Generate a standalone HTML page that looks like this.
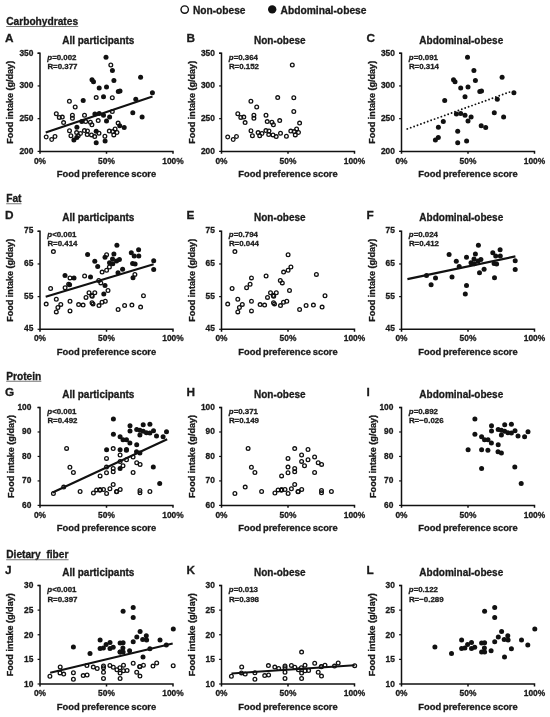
<!DOCTYPE html><html><head><meta charset="utf-8"><style>html,body{margin:0;padding:0;background:#fff;}svg{display:block;filter:blur(0.3px)}</style></head><body>
<svg width="550" height="717" viewBox="0 0 550 717" font-family="Liberation Sans, sans-serif" font-weight="bold" fill="#1a1a1a"><style>text{stroke:#1a1a1a;stroke-width:0.3px}</style>
<circle cx="184.7" cy="9.6" r="3.7" fill="none" stroke="#111" stroke-width="1.4"/>
<text x="192.9" y="14" font-size="10.2">Non-obese</text>
<circle cx="272.2" cy="9.4" r="4.2" fill="#111"/>
<text x="280.5" y="14.1" font-size="10.25">Abdominal-obese</text>
<text x="6.2" y="24.8" font-size="10.2">Carbohydrates</text>
<rect x="6.2" y="26.1" width="71.99" height="0.8" fill="#555"/>
<text x="5" y="41.5" font-size="11.8">A</text>
<text x="98.3" y="43.5" font-size="10" text-anchor="middle">All participants</text>
<path d="M37.6 53.2H40V151.4H173V153.8M40 151.4V153.8M106.5 151.4V153.8" fill="none" stroke="#111" stroke-width="1.5"/>
<path d="M37.6 151.4H40" stroke="#111" stroke-width="1.2"/>
<text x="33.4" y="153.7" font-size="8.4" text-anchor="end">200</text>
<path d="M37.6 118.67H40" stroke="#111" stroke-width="1.2"/>
<text x="33.4" y="120.97" font-size="8.4" text-anchor="end">250</text>
<path d="M37.6 85.93H40" stroke="#111" stroke-width="1.2"/>
<text x="33.4" y="88.23" font-size="8.4" text-anchor="end">300</text>
<path d="M37.6 53.2H40" stroke="#111" stroke-width="1.2"/>
<text x="33.4" y="55.5" font-size="8.4" text-anchor="end">350</text>
<text x="40" y="163.5" font-size="8.4" text-anchor="middle">0%</text>
<text x="106.5" y="163.5" font-size="8.4" text-anchor="middle">50%</text>
<text x="173" y="163.5" font-size="8.4" text-anchor="middle">100%</text>
<text x="106.5" y="177.2" font-size="9.4" word-spacing="-0.8" text-anchor="middle">Food preference score</text>
<text transform="translate(13.3 102.3) rotate(-90)" font-size="9.05" text-anchor="middle">Food intake (g/day)</text>
<text x="47.3" y="59.5" font-size="7.9"><tspan font-style="italic">p</tspan>=0.002</text>
<text x="47.4" y="68.9" font-size="7.9">R=0.377</text>
<text x="186.5" y="41.5" font-size="11.8">B</text>
<text x="279.8" y="43.5" font-size="10" text-anchor="middle">Non-obese</text>
<path d="M219.1 53.2H221.5V151.4H354.5V153.8M221.5 151.4V153.8M288 151.4V153.8" fill="none" stroke="#111" stroke-width="1.5"/>
<path d="M219.1 151.4H221.5" stroke="#111" stroke-width="1.2"/>
<text x="214.9" y="153.7" font-size="8.4" text-anchor="end">200</text>
<path d="M219.1 118.67H221.5" stroke="#111" stroke-width="1.2"/>
<text x="214.9" y="120.97" font-size="8.4" text-anchor="end">250</text>
<path d="M219.1 85.93H221.5" stroke="#111" stroke-width="1.2"/>
<text x="214.9" y="88.23" font-size="8.4" text-anchor="end">300</text>
<path d="M219.1 53.2H221.5" stroke="#111" stroke-width="1.2"/>
<text x="214.9" y="55.5" font-size="8.4" text-anchor="end">350</text>
<text x="221.5" y="163.5" font-size="8.4" text-anchor="middle">0%</text>
<text x="288" y="163.5" font-size="8.4" text-anchor="middle">50%</text>
<text x="354.5" y="163.5" font-size="8.4" text-anchor="middle">100%</text>
<text x="288" y="177.2" font-size="9.4" word-spacing="-0.8" text-anchor="middle">Food preference score</text>
<text transform="translate(194.8 102.3) rotate(-90)" font-size="9.05" text-anchor="middle">Food intake (g/day)</text>
<text x="228.8" y="59.5" font-size="7.9"><tspan font-style="italic">p</tspan>=0.364</text>
<text x="228.9" y="68.9" font-size="7.9">R=0.152</text>
<text x="366.5" y="41.5" font-size="11.8">C</text>
<text x="461.3" y="43.5" font-size="10" text-anchor="middle">Abdominal-obese</text>
<path d="M399.1 53.2H401.5V151.4H534.5V153.8M401.5 151.4V153.8M468 151.4V153.8" fill="none" stroke="#111" stroke-width="1.5"/>
<path d="M399.1 151.4H401.5" stroke="#111" stroke-width="1.2"/>
<text x="394.9" y="153.7" font-size="8.4" text-anchor="end">200</text>
<path d="M399.1 118.67H401.5" stroke="#111" stroke-width="1.2"/>
<text x="394.9" y="120.97" font-size="8.4" text-anchor="end">250</text>
<path d="M399.1 85.93H401.5" stroke="#111" stroke-width="1.2"/>
<text x="394.9" y="88.23" font-size="8.4" text-anchor="end">300</text>
<path d="M399.1 53.2H401.5" stroke="#111" stroke-width="1.2"/>
<text x="394.9" y="55.5" font-size="8.4" text-anchor="end">350</text>
<text x="401.5" y="163.5" font-size="8.4" text-anchor="middle">0%</text>
<text x="468" y="163.5" font-size="8.4" text-anchor="middle">50%</text>
<text x="534.5" y="163.5" font-size="8.4" text-anchor="middle">100%</text>
<text x="468" y="177.2" font-size="9.4" word-spacing="-0.8" text-anchor="middle">Food preference score</text>
<text transform="translate(374.8 102.3) rotate(-90)" font-size="9.05" text-anchor="middle">Food intake (g/day)</text>
<text x="408.8" y="59.5" font-size="7.9"><tspan font-style="italic">p</tspan>=0.091</text>
<text x="408.9" y="68.9" font-size="7.9">R=0.314</text>
<circle cx="46.2" cy="137" r="1.85" fill="none" stroke="#111" stroke-width="1.3"/>
<circle cx="51.7" cy="139.5" r="1.85" fill="none" stroke="#111" stroke-width="1.3"/>
<circle cx="55" cy="136.5" r="1.85" fill="none" stroke="#111" stroke-width="1.3"/>
<circle cx="56.3" cy="113.8" r="1.85" fill="none" stroke="#111" stroke-width="1.3"/>
<circle cx="59.3" cy="117.4" r="1.85" fill="none" stroke="#111" stroke-width="1.3"/>
<circle cx="62.3" cy="117.1" r="1.85" fill="none" stroke="#111" stroke-width="1.3"/>
<circle cx="63.6" cy="122.6" r="1.85" fill="none" stroke="#111" stroke-width="1.3"/>
<circle cx="69.4" cy="101.2" r="1.85" fill="none" stroke="#111" stroke-width="1.3"/>
<circle cx="75.2" cy="107" r="1.85" fill="none" stroke="#111" stroke-width="1.3"/>
<circle cx="72.4" cy="115.2" r="1.85" fill="none" stroke="#111" stroke-width="1.3"/>
<circle cx="72.4" cy="118.2" r="1.85" fill="none" stroke="#111" stroke-width="1.3"/>
<circle cx="69.5" cy="130.8" r="1.85" fill="none" stroke="#111" stroke-width="1.3"/>
<circle cx="70.9" cy="135.8" r="1.85" fill="none" stroke="#111" stroke-width="1.3"/>
<circle cx="76.6" cy="132.6" r="1.85" fill="none" stroke="#111" stroke-width="1.3"/>
<circle cx="78.2" cy="135.8" r="1.85" fill="none" stroke="#111" stroke-width="1.3"/>
<circle cx="80.5" cy="133.5" r="1.85" fill="none" stroke="#111" stroke-width="1.3"/>
<circle cx="84.5" cy="115.2" r="1.85" fill="none" stroke="#111" stroke-width="1.3"/>
<circle cx="85.7" cy="121.6" r="1.85" fill="none" stroke="#111" stroke-width="1.3"/>
<circle cx="84.4" cy="130.6" r="1.85" fill="none" stroke="#111" stroke-width="1.3"/>
<circle cx="87.5" cy="131" r="1.85" fill="none" stroke="#111" stroke-width="1.3"/>
<circle cx="87.2" cy="134.6" r="1.85" fill="none" stroke="#111" stroke-width="1.3"/>
<circle cx="90.4" cy="122.2" r="1.85" fill="none" stroke="#111" stroke-width="1.3"/>
<circle cx="91.9" cy="124.7" r="1.85" fill="none" stroke="#111" stroke-width="1.3"/>
<circle cx="91.5" cy="134.9" r="1.85" fill="none" stroke="#111" stroke-width="1.3"/>
<circle cx="94.7" cy="136.6" r="1.85" fill="none" stroke="#111" stroke-width="1.3"/>
<circle cx="96.2" cy="97.6" r="1.85" fill="none" stroke="#111" stroke-width="1.3"/>
<circle cx="98.2" cy="120.6" r="1.85" fill="none" stroke="#111" stroke-width="1.3"/>
<circle cx="99" cy="133.2" r="1.85" fill="none" stroke="#111" stroke-width="1.3"/>
<circle cx="110.8" cy="65" r="1.85" fill="none" stroke="#111" stroke-width="1.3"/>
<circle cx="112.3" cy="97.7" r="1.85" fill="none" stroke="#111" stroke-width="1.3"/>
<circle cx="112.3" cy="111.5" r="1.85" fill="none" stroke="#111" stroke-width="1.3"/>
<circle cx="118.1" cy="123.1" r="1.85" fill="none" stroke="#111" stroke-width="1.3"/>
<circle cx="115.1" cy="128.9" r="1.85" fill="none" stroke="#111" stroke-width="1.3"/>
<circle cx="117" cy="132.5" r="1.85" fill="none" stroke="#111" stroke-width="1.3"/>
<circle cx="113.8" cy="134.9" r="1.85" fill="none" stroke="#111" stroke-width="1.3"/>
<circle cx="112.7" cy="131.6" r="1.85" fill="none" stroke="#111" stroke-width="1.3"/>
<circle cx="109.3" cy="131.1" r="1.85" fill="none" stroke="#111" stroke-width="1.3"/>
<circle cx="104.9" cy="136.2" r="1.85" fill="none" stroke="#111" stroke-width="1.3"/>
<circle cx="106" cy="57.3" r="2.5" fill="#111"/>
<circle cx="112.4" cy="70.5" r="2.5" fill="#111"/>
<circle cx="92" cy="79.7" r="2.5" fill="#111"/>
<circle cx="93.5" cy="81.8" r="2.5" fill="#111"/>
<circle cx="113.9" cy="80.6" r="2.5" fill="#111"/>
<circle cx="99.2" cy="88.1" r="2.5" fill="#111"/>
<circle cx="106.5" cy="87" r="2.5" fill="#111"/>
<circle cx="118.3" cy="91.6" r="2.5" fill="#111"/>
<circle cx="120" cy="90.9" r="2.5" fill="#111"/>
<circle cx="103.5" cy="96.8" r="2.5" fill="#111"/>
<circle cx="83.2" cy="100.5" r="2.5" fill="#111"/>
<circle cx="94.9" cy="114.1" r="2.5" fill="#111"/>
<circle cx="99.2" cy="113.6" r="2.5" fill="#111"/>
<circle cx="103.5" cy="115.2" r="2.5" fill="#111"/>
<circle cx="109.6" cy="117" r="2.5" fill="#111"/>
<circle cx="106.5" cy="121.1" r="2.5" fill="#111"/>
<circle cx="81.8" cy="121.5" r="2.5" fill="#111"/>
<circle cx="76.9" cy="127.3" r="2.5" fill="#111"/>
<circle cx="96.2" cy="131.2" r="2.5" fill="#111"/>
<circle cx="76.8" cy="137.5" r="2.5" fill="#111"/>
<circle cx="73.9" cy="140" r="2.5" fill="#111"/>
<circle cx="96.2" cy="142.7" r="2.5" fill="#111"/>
<circle cx="105.1" cy="140.9" r="2.5" fill="#111"/>
<circle cx="140.6" cy="77.3" r="2.5" fill="#111"/>
<circle cx="152.4" cy="92.7" r="2.5" fill="#111"/>
<circle cx="135.8" cy="99.3" r="2.5" fill="#111"/>
<circle cx="132.8" cy="112.7" r="2.5" fill="#111"/>
<circle cx="142.1" cy="117.1" r="2.5" fill="#111"/>
<circle cx="119.7" cy="125.7" r="2.5" fill="#111"/>
<circle cx="124.2" cy="127.5" r="2.5" fill="#111"/>
<circle cx="227.7" cy="137" r="1.85" fill="none" stroke="#111" stroke-width="1.3"/>
<circle cx="233.2" cy="139.5" r="1.85" fill="none" stroke="#111" stroke-width="1.3"/>
<circle cx="236.5" cy="136.5" r="1.85" fill="none" stroke="#111" stroke-width="1.3"/>
<circle cx="237.8" cy="113.8" r="1.85" fill="none" stroke="#111" stroke-width="1.3"/>
<circle cx="240.8" cy="117.4" r="1.85" fill="none" stroke="#111" stroke-width="1.3"/>
<circle cx="243.8" cy="117.1" r="1.85" fill="none" stroke="#111" stroke-width="1.3"/>
<circle cx="245.1" cy="122.6" r="1.85" fill="none" stroke="#111" stroke-width="1.3"/>
<circle cx="250.9" cy="101.2" r="1.85" fill="none" stroke="#111" stroke-width="1.3"/>
<circle cx="256.7" cy="107" r="1.85" fill="none" stroke="#111" stroke-width="1.3"/>
<circle cx="253.9" cy="115.2" r="1.85" fill="none" stroke="#111" stroke-width="1.3"/>
<circle cx="253.9" cy="118.2" r="1.85" fill="none" stroke="#111" stroke-width="1.3"/>
<circle cx="251" cy="130.8" r="1.85" fill="none" stroke="#111" stroke-width="1.3"/>
<circle cx="252.4" cy="135.8" r="1.85" fill="none" stroke="#111" stroke-width="1.3"/>
<circle cx="258.1" cy="132.6" r="1.85" fill="none" stroke="#111" stroke-width="1.3"/>
<circle cx="259.7" cy="135.8" r="1.85" fill="none" stroke="#111" stroke-width="1.3"/>
<circle cx="262" cy="133.5" r="1.85" fill="none" stroke="#111" stroke-width="1.3"/>
<circle cx="266" cy="115.2" r="1.85" fill="none" stroke="#111" stroke-width="1.3"/>
<circle cx="267.2" cy="121.6" r="1.85" fill="none" stroke="#111" stroke-width="1.3"/>
<circle cx="265.9" cy="130.6" r="1.85" fill="none" stroke="#111" stroke-width="1.3"/>
<circle cx="269" cy="131" r="1.85" fill="none" stroke="#111" stroke-width="1.3"/>
<circle cx="268.7" cy="134.6" r="1.85" fill="none" stroke="#111" stroke-width="1.3"/>
<circle cx="271.9" cy="122.2" r="1.85" fill="none" stroke="#111" stroke-width="1.3"/>
<circle cx="273.4" cy="124.7" r="1.85" fill="none" stroke="#111" stroke-width="1.3"/>
<circle cx="273" cy="134.9" r="1.85" fill="none" stroke="#111" stroke-width="1.3"/>
<circle cx="276.2" cy="136.6" r="1.85" fill="none" stroke="#111" stroke-width="1.3"/>
<circle cx="277.7" cy="97.6" r="1.85" fill="none" stroke="#111" stroke-width="1.3"/>
<circle cx="279.7" cy="120.6" r="1.85" fill="none" stroke="#111" stroke-width="1.3"/>
<circle cx="280.5" cy="133.2" r="1.85" fill="none" stroke="#111" stroke-width="1.3"/>
<circle cx="292.3" cy="65" r="1.85" fill="none" stroke="#111" stroke-width="1.3"/>
<circle cx="293.8" cy="97.7" r="1.85" fill="none" stroke="#111" stroke-width="1.3"/>
<circle cx="293.8" cy="111.5" r="1.85" fill="none" stroke="#111" stroke-width="1.3"/>
<circle cx="299.6" cy="123.1" r="1.85" fill="none" stroke="#111" stroke-width="1.3"/>
<circle cx="296.6" cy="128.9" r="1.85" fill="none" stroke="#111" stroke-width="1.3"/>
<circle cx="298.5" cy="132.5" r="1.85" fill="none" stroke="#111" stroke-width="1.3"/>
<circle cx="295.3" cy="134.9" r="1.85" fill="none" stroke="#111" stroke-width="1.3"/>
<circle cx="294.2" cy="131.6" r="1.85" fill="none" stroke="#111" stroke-width="1.3"/>
<circle cx="290.8" cy="131.1" r="1.85" fill="none" stroke="#111" stroke-width="1.3"/>
<circle cx="286.4" cy="136.2" r="1.85" fill="none" stroke="#111" stroke-width="1.3"/>
<circle cx="467.5" cy="57.3" r="2.5" fill="#111"/>
<circle cx="473.9" cy="70.5" r="2.5" fill="#111"/>
<circle cx="453.5" cy="79.7" r="2.5" fill="#111"/>
<circle cx="455" cy="81.8" r="2.5" fill="#111"/>
<circle cx="475.4" cy="80.6" r="2.5" fill="#111"/>
<circle cx="460.7" cy="88.1" r="2.5" fill="#111"/>
<circle cx="468" cy="87" r="2.5" fill="#111"/>
<circle cx="479.8" cy="91.6" r="2.5" fill="#111"/>
<circle cx="481.5" cy="90.9" r="2.5" fill="#111"/>
<circle cx="465" cy="96.8" r="2.5" fill="#111"/>
<circle cx="444.7" cy="100.5" r="2.5" fill="#111"/>
<circle cx="456.4" cy="114.1" r="2.5" fill="#111"/>
<circle cx="460.7" cy="113.6" r="2.5" fill="#111"/>
<circle cx="465" cy="115.2" r="2.5" fill="#111"/>
<circle cx="471.1" cy="117" r="2.5" fill="#111"/>
<circle cx="468" cy="121.1" r="2.5" fill="#111"/>
<circle cx="443.3" cy="121.5" r="2.5" fill="#111"/>
<circle cx="438.4" cy="127.3" r="2.5" fill="#111"/>
<circle cx="457.7" cy="131.2" r="2.5" fill="#111"/>
<circle cx="438.3" cy="137.5" r="2.5" fill="#111"/>
<circle cx="435.4" cy="140" r="2.5" fill="#111"/>
<circle cx="457.7" cy="142.7" r="2.5" fill="#111"/>
<circle cx="466.6" cy="140.9" r="2.5" fill="#111"/>
<circle cx="502.1" cy="77.3" r="2.5" fill="#111"/>
<circle cx="513.9" cy="92.7" r="2.5" fill="#111"/>
<circle cx="497.3" cy="99.3" r="2.5" fill="#111"/>
<circle cx="494.3" cy="112.7" r="2.5" fill="#111"/>
<circle cx="503.6" cy="117.1" r="2.5" fill="#111"/>
<circle cx="481.2" cy="125.7" r="2.5" fill="#111"/>
<circle cx="485.7" cy="127.5" r="2.5" fill="#111"/>
<path d="M45.7 132.6L152.5 96.6" stroke="#111" stroke-width="2.1"/>
<path d="M407.3 128.9L511.4 91.4" stroke="#111" stroke-dasharray="0 3.62" stroke-linecap="round" stroke-width="1.9"/>
<text x="6.2" y="202.1" font-size="10.2">Fat</text>
<rect x="6.2" y="203.4" width="15.3" height="0.8" fill="#555"/>
<text x="5" y="218.5" font-size="11.8">D</text>
<text x="98.3" y="220.6" font-size="10" text-anchor="middle">All participants</text>
<path d="M37.6 231.3H40V329.3H173V331.7M40 329.3V331.7M106.5 329.3V331.7" fill="none" stroke="#111" stroke-width="1.5"/>
<path d="M37.6 329.3H40" stroke="#111" stroke-width="1.2"/>
<text x="33.4" y="331.3" font-size="8.4" text-anchor="end">45</text>
<path d="M37.6 296.63H40" stroke="#111" stroke-width="1.2"/>
<text x="33.4" y="298.63" font-size="8.4" text-anchor="end">55</text>
<path d="M37.6 263.97H40" stroke="#111" stroke-width="1.2"/>
<text x="33.4" y="265.97" font-size="8.4" text-anchor="end">65</text>
<path d="M37.6 231.3H40" stroke="#111" stroke-width="1.2"/>
<text x="33.4" y="233.3" font-size="8.4" text-anchor="end">75</text>
<text x="40" y="341.4" font-size="8.4" text-anchor="middle">0%</text>
<text x="106.5" y="341.4" font-size="8.4" text-anchor="middle">50%</text>
<text x="173" y="341.4" font-size="8.4" text-anchor="middle">100%</text>
<text x="106.5" y="355.1" font-size="9.4" word-spacing="-0.8" text-anchor="middle">Food preference score</text>
<text transform="translate(13.3 280.3) rotate(-90)" font-size="9.05" text-anchor="middle">Food intake (g/day)</text>
<text x="47.3" y="236.6" font-size="7.9"><tspan font-style="italic">p</tspan><0.001</text>
<text x="47.4" y="246" font-size="7.9">R=0.414</text>
<text x="186.5" y="218.5" font-size="11.8">E</text>
<text x="279.8" y="220.6" font-size="10" text-anchor="middle">Non-obese</text>
<path d="M219.1 231.3H221.5V329.3H354.5V331.7M221.5 329.3V331.7M288 329.3V331.7" fill="none" stroke="#111" stroke-width="1.5"/>
<path d="M219.1 329.3H221.5" stroke="#111" stroke-width="1.2"/>
<text x="214.9" y="331.3" font-size="8.4" text-anchor="end">45</text>
<path d="M219.1 296.63H221.5" stroke="#111" stroke-width="1.2"/>
<text x="214.9" y="298.63" font-size="8.4" text-anchor="end">55</text>
<path d="M219.1 263.97H221.5" stroke="#111" stroke-width="1.2"/>
<text x="214.9" y="265.97" font-size="8.4" text-anchor="end">65</text>
<path d="M219.1 231.3H221.5" stroke="#111" stroke-width="1.2"/>
<text x="214.9" y="233.3" font-size="8.4" text-anchor="end">75</text>
<text x="221.5" y="341.4" font-size="8.4" text-anchor="middle">0%</text>
<text x="288" y="341.4" font-size="8.4" text-anchor="middle">50%</text>
<text x="354.5" y="341.4" font-size="8.4" text-anchor="middle">100%</text>
<text x="288" y="355.1" font-size="9.4" word-spacing="-0.8" text-anchor="middle">Food preference score</text>
<text transform="translate(194.8 280.3) rotate(-90)" font-size="9.05" text-anchor="middle">Food intake (g/day)</text>
<text x="228.8" y="236.6" font-size="7.9"><tspan font-style="italic">p</tspan>=0.794</text>
<text x="228.9" y="246" font-size="7.9">R=0.044</text>
<text x="366.5" y="218.5" font-size="11.8">F</text>
<text x="461.3" y="220.6" font-size="10" text-anchor="middle">Abdominal-obese</text>
<path d="M399.1 231.3H401.5V329.3H534.5V331.7M401.5 329.3V331.7M468 329.3V331.7" fill="none" stroke="#111" stroke-width="1.5"/>
<path d="M399.1 329.3H401.5" stroke="#111" stroke-width="1.2"/>
<text x="394.9" y="331.3" font-size="8.4" text-anchor="end">45</text>
<path d="M399.1 296.63H401.5" stroke="#111" stroke-width="1.2"/>
<text x="394.9" y="298.63" font-size="8.4" text-anchor="end">55</text>
<path d="M399.1 263.97H401.5" stroke="#111" stroke-width="1.2"/>
<text x="394.9" y="265.97" font-size="8.4" text-anchor="end">65</text>
<path d="M399.1 231.3H401.5" stroke="#111" stroke-width="1.2"/>
<text x="394.9" y="233.3" font-size="8.4" text-anchor="end">75</text>
<text x="401.5" y="341.4" font-size="8.4" text-anchor="middle">0%</text>
<text x="468" y="341.4" font-size="8.4" text-anchor="middle">50%</text>
<text x="534.5" y="341.4" font-size="8.4" text-anchor="middle">100%</text>
<text x="468" y="355.1" font-size="9.4" word-spacing="-0.8" text-anchor="middle">Food preference score</text>
<text transform="translate(374.8 280.3) rotate(-90)" font-size="9.05" text-anchor="middle">Food intake (g/day)</text>
<text x="408.8" y="236.6" font-size="7.9"><tspan font-style="italic">p</tspan>=0.024</text>
<text x="408.9" y="246" font-size="7.9">R=0.412</text>
<circle cx="53.4" cy="251.6" r="1.85" fill="none" stroke="#111" stroke-width="1.3"/>
<circle cx="70" cy="277.9" r="1.85" fill="none" stroke="#111" stroke-width="1.3"/>
<circle cx="84.6" cy="276" r="1.85" fill="none" stroke="#111" stroke-width="1.3"/>
<circle cx="68.6" cy="284.3" r="1.85" fill="none" stroke="#111" stroke-width="1.3"/>
<circle cx="65.1" cy="287.7" r="1.85" fill="none" stroke="#111" stroke-width="1.3"/>
<circle cx="50.6" cy="288.5" r="1.85" fill="none" stroke="#111" stroke-width="1.3"/>
<circle cx="89" cy="292.7" r="1.85" fill="none" stroke="#111" stroke-width="1.3"/>
<circle cx="86" cy="297.4" r="1.85" fill="none" stroke="#111" stroke-width="1.3"/>
<circle cx="56.3" cy="299.2" r="1.85" fill="none" stroke="#111" stroke-width="1.3"/>
<circle cx="70" cy="301.2" r="1.85" fill="none" stroke="#111" stroke-width="1.3"/>
<circle cx="46.2" cy="304.1" r="1.85" fill="none" stroke="#111" stroke-width="1.3"/>
<circle cx="60.8" cy="304.4" r="1.85" fill="none" stroke="#111" stroke-width="1.3"/>
<circle cx="57.9" cy="307.5" r="1.85" fill="none" stroke="#111" stroke-width="1.3"/>
<circle cx="56.3" cy="311.9" r="1.85" fill="none" stroke="#111" stroke-width="1.3"/>
<circle cx="70" cy="310.9" r="1.85" fill="none" stroke="#111" stroke-width="1.3"/>
<circle cx="78.6" cy="304.6" r="1.85" fill="none" stroke="#111" stroke-width="1.3"/>
<circle cx="83.1" cy="305.1" r="1.85" fill="none" stroke="#111" stroke-width="1.3"/>
<circle cx="106.6" cy="254.8" r="1.85" fill="none" stroke="#111" stroke-width="1.3"/>
<circle cx="109.4" cy="267" r="1.85" fill="none" stroke="#111" stroke-width="1.3"/>
<circle cx="106.6" cy="270.2" r="1.85" fill="none" stroke="#111" stroke-width="1.3"/>
<circle cx="102.1" cy="272.1" r="1.85" fill="none" stroke="#111" stroke-width="1.3"/>
<circle cx="98.8" cy="280.5" r="1.85" fill="none" stroke="#111" stroke-width="1.3"/>
<circle cx="100.8" cy="282.9" r="1.85" fill="none" stroke="#111" stroke-width="1.3"/>
<circle cx="108" cy="290.5" r="1.85" fill="none" stroke="#111" stroke-width="1.3"/>
<circle cx="94.8" cy="292.7" r="1.85" fill="none" stroke="#111" stroke-width="1.3"/>
<circle cx="91.8" cy="295.6" r="1.85" fill="none" stroke="#111" stroke-width="1.3"/>
<circle cx="92.2" cy="296.3" r="1.85" fill="none" stroke="#111" stroke-width="1.3"/>
<circle cx="92" cy="302.8" r="1.85" fill="none" stroke="#111" stroke-width="1.3"/>
<circle cx="93" cy="303.9" r="1.85" fill="none" stroke="#111" stroke-width="1.3"/>
<circle cx="99" cy="305.6" r="1.85" fill="none" stroke="#111" stroke-width="1.3"/>
<circle cx="102" cy="302.3" r="1.85" fill="none" stroke="#111" stroke-width="1.3"/>
<circle cx="105.3" cy="301.2" r="1.85" fill="none" stroke="#111" stroke-width="1.3"/>
<circle cx="118.1" cy="309.5" r="1.85" fill="none" stroke="#111" stroke-width="1.3"/>
<circle cx="124.6" cy="305.5" r="1.85" fill="none" stroke="#111" stroke-width="1.3"/>
<circle cx="131.9" cy="305.1" r="1.85" fill="none" stroke="#111" stroke-width="1.3"/>
<circle cx="134.9" cy="274.4" r="1.85" fill="none" stroke="#111" stroke-width="1.3"/>
<circle cx="143.5" cy="295.7" r="1.85" fill="none" stroke="#111" stroke-width="1.3"/>
<circle cx="140.6" cy="307.1" r="1.85" fill="none" stroke="#111" stroke-width="1.3"/>
<circle cx="87.6" cy="254.4" r="2.5" fill="#111"/>
<circle cx="94.8" cy="261.2" r="2.5" fill="#111"/>
<circle cx="97.7" cy="266.4" r="2.5" fill="#111"/>
<circle cx="65" cy="275.5" r="2.5" fill="#111"/>
<circle cx="74" cy="278" r="2.5" fill="#111"/>
<circle cx="90.5" cy="276.9" r="2.5" fill="#111"/>
<circle cx="69.6" cy="284.7" r="2.5" fill="#111"/>
<circle cx="116.9" cy="245.2" r="2.5" fill="#111"/>
<circle cx="113.9" cy="254" r="2.5" fill="#111"/>
<circle cx="105" cy="257.2" r="2.5" fill="#111"/>
<circle cx="112.5" cy="258.9" r="2.5" fill="#111"/>
<circle cx="119.4" cy="259.5" r="2.5" fill="#111"/>
<circle cx="116.5" cy="261" r="2.5" fill="#111"/>
<circle cx="109.5" cy="262.7" r="2.5" fill="#111"/>
<circle cx="112.8" cy="263.8" r="2.5" fill="#111"/>
<circle cx="118" cy="272.7" r="2.5" fill="#111"/>
<circle cx="122.6" cy="269.3" r="2.5" fill="#111"/>
<circle cx="105" cy="285.5" r="2.5" fill="#111"/>
<circle cx="103.8" cy="293.9" r="2.5" fill="#111"/>
<circle cx="138.6" cy="249.8" r="2.5" fill="#111"/>
<circle cx="131.3" cy="252.7" r="2.5" fill="#111"/>
<circle cx="134.2" cy="255.9" r="2.5" fill="#111"/>
<circle cx="138.8" cy="255.9" r="2.5" fill="#111"/>
<circle cx="132.6" cy="263.6" r="2.5" fill="#111"/>
<circle cx="135.1" cy="264" r="2.5" fill="#111"/>
<circle cx="153.7" cy="260.7" r="2.5" fill="#111"/>
<circle cx="153.7" cy="269.5" r="2.5" fill="#111"/>
<circle cx="133" cy="277.8" r="2.5" fill="#111"/>
<circle cx="234.9" cy="251.6" r="1.85" fill="none" stroke="#111" stroke-width="1.3"/>
<circle cx="251.5" cy="277.9" r="1.85" fill="none" stroke="#111" stroke-width="1.3"/>
<circle cx="266.1" cy="276" r="1.85" fill="none" stroke="#111" stroke-width="1.3"/>
<circle cx="250.1" cy="284.3" r="1.85" fill="none" stroke="#111" stroke-width="1.3"/>
<circle cx="246.6" cy="287.7" r="1.85" fill="none" stroke="#111" stroke-width="1.3"/>
<circle cx="232.1" cy="288.5" r="1.85" fill="none" stroke="#111" stroke-width="1.3"/>
<circle cx="270.5" cy="292.7" r="1.85" fill="none" stroke="#111" stroke-width="1.3"/>
<circle cx="267.5" cy="297.4" r="1.85" fill="none" stroke="#111" stroke-width="1.3"/>
<circle cx="237.8" cy="299.2" r="1.85" fill="none" stroke="#111" stroke-width="1.3"/>
<circle cx="251.5" cy="301.2" r="1.85" fill="none" stroke="#111" stroke-width="1.3"/>
<circle cx="227.7" cy="304.1" r="1.85" fill="none" stroke="#111" stroke-width="1.3"/>
<circle cx="242.3" cy="304.4" r="1.85" fill="none" stroke="#111" stroke-width="1.3"/>
<circle cx="239.4" cy="307.5" r="1.85" fill="none" stroke="#111" stroke-width="1.3"/>
<circle cx="237.8" cy="311.9" r="1.85" fill="none" stroke="#111" stroke-width="1.3"/>
<circle cx="251.5" cy="310.9" r="1.85" fill="none" stroke="#111" stroke-width="1.3"/>
<circle cx="260.1" cy="304.6" r="1.85" fill="none" stroke="#111" stroke-width="1.3"/>
<circle cx="264.6" cy="305.1" r="1.85" fill="none" stroke="#111" stroke-width="1.3"/>
<circle cx="288.1" cy="254.8" r="1.85" fill="none" stroke="#111" stroke-width="1.3"/>
<circle cx="290.9" cy="267" r="1.85" fill="none" stroke="#111" stroke-width="1.3"/>
<circle cx="288.1" cy="270.2" r="1.85" fill="none" stroke="#111" stroke-width="1.3"/>
<circle cx="283.6" cy="272.1" r="1.85" fill="none" stroke="#111" stroke-width="1.3"/>
<circle cx="280.3" cy="280.5" r="1.85" fill="none" stroke="#111" stroke-width="1.3"/>
<circle cx="282.3" cy="282.9" r="1.85" fill="none" stroke="#111" stroke-width="1.3"/>
<circle cx="289.5" cy="290.5" r="1.85" fill="none" stroke="#111" stroke-width="1.3"/>
<circle cx="276.3" cy="292.7" r="1.85" fill="none" stroke="#111" stroke-width="1.3"/>
<circle cx="273.3" cy="295.6" r="1.85" fill="none" stroke="#111" stroke-width="1.3"/>
<circle cx="273.7" cy="296.3" r="1.85" fill="none" stroke="#111" stroke-width="1.3"/>
<circle cx="273.5" cy="302.8" r="1.85" fill="none" stroke="#111" stroke-width="1.3"/>
<circle cx="274.5" cy="303.9" r="1.85" fill="none" stroke="#111" stroke-width="1.3"/>
<circle cx="280.5" cy="305.6" r="1.85" fill="none" stroke="#111" stroke-width="1.3"/>
<circle cx="283.5" cy="302.3" r="1.85" fill="none" stroke="#111" stroke-width="1.3"/>
<circle cx="286.8" cy="301.2" r="1.85" fill="none" stroke="#111" stroke-width="1.3"/>
<circle cx="299.6" cy="309.5" r="1.85" fill="none" stroke="#111" stroke-width="1.3"/>
<circle cx="306.1" cy="305.5" r="1.85" fill="none" stroke="#111" stroke-width="1.3"/>
<circle cx="313.4" cy="305.1" r="1.85" fill="none" stroke="#111" stroke-width="1.3"/>
<circle cx="316.4" cy="274.4" r="1.85" fill="none" stroke="#111" stroke-width="1.3"/>
<circle cx="325" cy="295.7" r="1.85" fill="none" stroke="#111" stroke-width="1.3"/>
<circle cx="322.1" cy="307.1" r="1.85" fill="none" stroke="#111" stroke-width="1.3"/>
<circle cx="449.1" cy="254.4" r="2.5" fill="#111"/>
<circle cx="456.3" cy="261.2" r="2.5" fill="#111"/>
<circle cx="459.2" cy="266.4" r="2.5" fill="#111"/>
<circle cx="426.5" cy="275.5" r="2.5" fill="#111"/>
<circle cx="435.5" cy="278" r="2.5" fill="#111"/>
<circle cx="452" cy="276.9" r="2.5" fill="#111"/>
<circle cx="431.1" cy="284.7" r="2.5" fill="#111"/>
<circle cx="478.4" cy="245.2" r="2.5" fill="#111"/>
<circle cx="475.4" cy="254" r="2.5" fill="#111"/>
<circle cx="466.5" cy="257.2" r="2.5" fill="#111"/>
<circle cx="474" cy="258.9" r="2.5" fill="#111"/>
<circle cx="480.9" cy="259.5" r="2.5" fill="#111"/>
<circle cx="478" cy="261" r="2.5" fill="#111"/>
<circle cx="471" cy="262.7" r="2.5" fill="#111"/>
<circle cx="474.3" cy="263.8" r="2.5" fill="#111"/>
<circle cx="479.5" cy="272.7" r="2.5" fill="#111"/>
<circle cx="484.1" cy="269.3" r="2.5" fill="#111"/>
<circle cx="466.5" cy="285.5" r="2.5" fill="#111"/>
<circle cx="465.3" cy="293.9" r="2.5" fill="#111"/>
<circle cx="500.1" cy="249.8" r="2.5" fill="#111"/>
<circle cx="492.8" cy="252.7" r="2.5" fill="#111"/>
<circle cx="495.7" cy="255.9" r="2.5" fill="#111"/>
<circle cx="500.3" cy="255.9" r="2.5" fill="#111"/>
<circle cx="494.1" cy="263.6" r="2.5" fill="#111"/>
<circle cx="496.6" cy="264" r="2.5" fill="#111"/>
<circle cx="515.2" cy="260.7" r="2.5" fill="#111"/>
<circle cx="515.2" cy="269.5" r="2.5" fill="#111"/>
<circle cx="494.5" cy="277.8" r="2.5" fill="#111"/>
<path d="M45.7 296.7L153.6 264.2" stroke="#111" stroke-width="2.1"/>
<path d="M407.4 279.1L515.4 256.4" stroke="#111" stroke-width="2.1"/>
<text x="6.2" y="379.5" font-size="10.2">Protein</text>
<rect x="6.2" y="380.8" width="35.14" height="0.8" fill="#555"/>
<text x="5" y="395.5" font-size="11.8">G</text>
<text x="98.3" y="397.8" font-size="10" text-anchor="middle">All participants</text>
<path d="M37.6 407.5H40V505.4H173V507.8M40 505.4V507.8M106.5 505.4V507.8" fill="none" stroke="#111" stroke-width="1.5"/>
<path d="M37.6 505.4H40" stroke="#111" stroke-width="1.2"/>
<text x="31.4" y="507.7" font-size="8.4" text-anchor="end">60</text>
<path d="M37.6 480.92H40" stroke="#111" stroke-width="1.2"/>
<text x="31.4" y="483.22" font-size="8.4" text-anchor="end">70</text>
<path d="M37.6 456.45H40" stroke="#111" stroke-width="1.2"/>
<text x="31.4" y="458.75" font-size="8.4" text-anchor="end">80</text>
<path d="M37.6 431.98H40" stroke="#111" stroke-width="1.2"/>
<text x="31.4" y="434.28" font-size="8.4" text-anchor="end">90</text>
<path d="M37.6 407.5H40" stroke="#111" stroke-width="1.2"/>
<text x="31.4" y="409.8" font-size="8.4" text-anchor="end">100</text>
<text x="40" y="517.5" font-size="8.4" text-anchor="middle">0%</text>
<text x="106.5" y="517.5" font-size="8.4" text-anchor="middle">50%</text>
<text x="173" y="517.5" font-size="8.4" text-anchor="middle">100%</text>
<text x="106.5" y="531.2" font-size="9.4" word-spacing="-0.8" text-anchor="middle">Food preference score</text>
<text transform="translate(14.3 456.45) rotate(-90)" font-size="9.05" text-anchor="middle">Food intake (g/day)</text>
<text x="47.3" y="413.8" font-size="7.9"><tspan font-style="italic">p</tspan><0.001</text>
<text x="47.4" y="423.2" font-size="7.9">R=0.492</text>
<text x="186.5" y="395.5" font-size="11.8">H</text>
<text x="279.8" y="397.8" font-size="10" text-anchor="middle">Non-obese</text>
<path d="M219.1 407.5H221.5V505.4H354.5V507.8M221.5 505.4V507.8M288 505.4V507.8" fill="none" stroke="#111" stroke-width="1.5"/>
<path d="M219.1 505.4H221.5" stroke="#111" stroke-width="1.2"/>
<text x="214.9" y="507.7" font-size="8.4" text-anchor="end">60</text>
<path d="M219.1 480.92H221.5" stroke="#111" stroke-width="1.2"/>
<text x="214.9" y="483.22" font-size="8.4" text-anchor="end">70</text>
<path d="M219.1 456.45H221.5" stroke="#111" stroke-width="1.2"/>
<text x="214.9" y="458.75" font-size="8.4" text-anchor="end">80</text>
<path d="M219.1 431.98H221.5" stroke="#111" stroke-width="1.2"/>
<text x="214.9" y="434.28" font-size="8.4" text-anchor="end">90</text>
<path d="M219.1 407.5H221.5" stroke="#111" stroke-width="1.2"/>
<text x="214.9" y="409.8" font-size="8.4" text-anchor="end">100</text>
<text x="221.5" y="517.5" font-size="8.4" text-anchor="middle">0%</text>
<text x="288" y="517.5" font-size="8.4" text-anchor="middle">50%</text>
<text x="354.5" y="517.5" font-size="8.4" text-anchor="middle">100%</text>
<text x="288" y="531.2" font-size="9.4" word-spacing="-0.8" text-anchor="middle">Food preference score</text>
<text transform="translate(194.8 456.45) rotate(-90)" font-size="9.05" text-anchor="middle">Food intake (g/day)</text>
<text x="228.8" y="413.8" font-size="7.9"><tspan font-style="italic">p</tspan>=0.371</text>
<text x="228.9" y="423.2" font-size="7.9">R=0.149</text>
<text x="366.5" y="395.5" font-size="11.8">I</text>
<text x="461.3" y="397.8" font-size="10" text-anchor="middle">Abdominal-obese</text>
<path d="M399.1 407.5H401.5V505.4H534.5V507.8M401.5 505.4V507.8M468 505.4V507.8" fill="none" stroke="#111" stroke-width="1.5"/>
<path d="M399.1 505.4H401.5" stroke="#111" stroke-width="1.2"/>
<text x="393.4" y="507.7" font-size="8.4" text-anchor="end">60</text>
<path d="M399.1 480.92H401.5" stroke="#111" stroke-width="1.2"/>
<text x="393.4" y="483.22" font-size="8.4" text-anchor="end">70</text>
<path d="M399.1 456.45H401.5" stroke="#111" stroke-width="1.2"/>
<text x="393.4" y="458.75" font-size="8.4" text-anchor="end">80</text>
<path d="M399.1 431.98H401.5" stroke="#111" stroke-width="1.2"/>
<text x="393.4" y="434.28" font-size="8.4" text-anchor="end">90</text>
<path d="M399.1 407.5H401.5" stroke="#111" stroke-width="1.2"/>
<text x="393.4" y="409.8" font-size="8.4" text-anchor="end">100</text>
<text x="401.5" y="517.5" font-size="8.4" text-anchor="middle">0%</text>
<text x="468" y="517.5" font-size="8.4" text-anchor="middle">50%</text>
<text x="534.5" y="517.5" font-size="8.4" text-anchor="middle">100%</text>
<text x="468" y="531.2" font-size="9.4" word-spacing="-0.8" text-anchor="middle">Food preference score</text>
<text transform="translate(375.8 456.45) rotate(-90)" font-size="9.05" text-anchor="middle">Food intake (g/day)</text>
<text x="408.8" y="413.8" font-size="7.9"><tspan font-style="italic">p</tspan>=0.892</text>
<text x="408.9" y="423.2" font-size="7.9">R=−0.026</text>
<circle cx="66.6" cy="448.4" r="1.85" fill="none" stroke="#111" stroke-width="1.3"/>
<circle cx="69.9" cy="467.3" r="1.85" fill="none" stroke="#111" stroke-width="1.3"/>
<circle cx="73.4" cy="472.5" r="1.85" fill="none" stroke="#111" stroke-width="1.3"/>
<circle cx="63.7" cy="487.1" r="1.85" fill="none" stroke="#111" stroke-width="1.3"/>
<circle cx="53.4" cy="493.5" r="1.85" fill="none" stroke="#111" stroke-width="1.3"/>
<circle cx="80.1" cy="491.5" r="1.85" fill="none" stroke="#111" stroke-width="1.3"/>
<circle cx="113.2" cy="448.6" r="1.85" fill="none" stroke="#111" stroke-width="1.3"/>
<circle cx="126.5" cy="449.5" r="1.85" fill="none" stroke="#111" stroke-width="1.3"/>
<circle cx="120.1" cy="455" r="1.85" fill="none" stroke="#111" stroke-width="1.3"/>
<circle cx="106.5" cy="458.4" r="1.85" fill="none" stroke="#111" stroke-width="1.3"/>
<circle cx="133.1" cy="457" r="1.85" fill="none" stroke="#111" stroke-width="1.3"/>
<circle cx="126.5" cy="459.7" r="1.85" fill="none" stroke="#111" stroke-width="1.3"/>
<circle cx="120.1" cy="461.4" r="1.85" fill="none" stroke="#111" stroke-width="1.3"/>
<circle cx="123" cy="465.8" r="1.85" fill="none" stroke="#111" stroke-width="1.3"/>
<circle cx="136.7" cy="462.7" r="1.85" fill="none" stroke="#111" stroke-width="1.3"/>
<circle cx="140.1" cy="464.4" r="1.85" fill="none" stroke="#111" stroke-width="1.3"/>
<circle cx="106.5" cy="467.1" r="1.85" fill="none" stroke="#111" stroke-width="1.3"/>
<circle cx="113.2" cy="468.5" r="1.85" fill="none" stroke="#111" stroke-width="1.3"/>
<circle cx="113.2" cy="471.8" r="1.85" fill="none" stroke="#111" stroke-width="1.3"/>
<circle cx="106.5" cy="472.7" r="1.85" fill="none" stroke="#111" stroke-width="1.3"/>
<circle cx="133.1" cy="472.5" r="1.85" fill="none" stroke="#111" stroke-width="1.3"/>
<circle cx="100.1" cy="475.9" r="1.85" fill="none" stroke="#111" stroke-width="1.3"/>
<circle cx="113.2" cy="484.5" r="1.85" fill="none" stroke="#111" stroke-width="1.3"/>
<circle cx="109.9" cy="488.7" r="1.85" fill="none" stroke="#111" stroke-width="1.3"/>
<circle cx="93.4" cy="493" r="1.85" fill="none" stroke="#111" stroke-width="1.3"/>
<circle cx="96.6" cy="489.9" r="1.85" fill="none" stroke="#111" stroke-width="1.3"/>
<circle cx="99.8" cy="489.9" r="1.85" fill="none" stroke="#111" stroke-width="1.3"/>
<circle cx="100.2" cy="489.7" r="1.85" fill="none" stroke="#111" stroke-width="1.3"/>
<circle cx="100" cy="490.1" r="1.85" fill="none" stroke="#111" stroke-width="1.3"/>
<circle cx="103.5" cy="489.5" r="1.85" fill="none" stroke="#111" stroke-width="1.3"/>
<circle cx="106.6" cy="493.5" r="1.85" fill="none" stroke="#111" stroke-width="1.3"/>
<circle cx="116.7" cy="491.5" r="1.85" fill="none" stroke="#111" stroke-width="1.3"/>
<circle cx="116.5" cy="491.8" r="1.85" fill="none" stroke="#111" stroke-width="1.3"/>
<circle cx="120.2" cy="489.5" r="1.85" fill="none" stroke="#111" stroke-width="1.3"/>
<circle cx="140" cy="490.5" r="1.85" fill="none" stroke="#111" stroke-width="1.3"/>
<circle cx="140" cy="492.7" r="1.85" fill="none" stroke="#111" stroke-width="1.3"/>
<circle cx="149.9" cy="491.5" r="1.85" fill="none" stroke="#111" stroke-width="1.3"/>
<circle cx="113.4" cy="419.1" r="2.5" fill="#111"/>
<circle cx="130" cy="425.7" r="2.5" fill="#111"/>
<circle cx="130" cy="431.1" r="2.5" fill="#111"/>
<circle cx="113.4" cy="434.2" r="2.5" fill="#111"/>
<circle cx="120.1" cy="436.7" r="2.5" fill="#111"/>
<circle cx="123" cy="439.8" r="2.5" fill="#111"/>
<circle cx="126.5" cy="439.8" r="2.5" fill="#111"/>
<circle cx="129.9" cy="443" r="2.5" fill="#111"/>
<circle cx="136.7" cy="444.7" r="2.5" fill="#111"/>
<circle cx="106.6" cy="449.7" r="2.5" fill="#111"/>
<circle cx="120.1" cy="449.7" r="2.5" fill="#111"/>
<circle cx="126.4" cy="450.2" r="2.5" fill="#111"/>
<circle cx="136.5" cy="451.8" r="2.5" fill="#111"/>
<circle cx="139.9" cy="453.1" r="2.5" fill="#111"/>
<circle cx="120.1" cy="468.6" r="2.5" fill="#111"/>
<circle cx="143.2" cy="424.8" r="2.5" fill="#111"/>
<circle cx="149.9" cy="424.2" r="2.5" fill="#111"/>
<circle cx="136.7" cy="429.5" r="2.5" fill="#111"/>
<circle cx="139.9" cy="430.3" r="2.5" fill="#111"/>
<circle cx="143.2" cy="431.3" r="2.5" fill="#111"/>
<circle cx="146.4" cy="432.7" r="2.5" fill="#111"/>
<circle cx="149.9" cy="432.9" r="2.5" fill="#111"/>
<circle cx="153.5" cy="430.7" r="2.5" fill="#111"/>
<circle cx="139.9" cy="435" r="2.5" fill="#111"/>
<circle cx="156.5" cy="435.9" r="2.5" fill="#111"/>
<circle cx="163.1" cy="436.8" r="2.5" fill="#111"/>
<circle cx="166.5" cy="431.8" r="2.5" fill="#111"/>
<circle cx="153.3" cy="467.1" r="2.5" fill="#111"/>
<circle cx="159.7" cy="483.5" r="2.5" fill="#111"/>
<circle cx="248.1" cy="448.4" r="1.85" fill="none" stroke="#111" stroke-width="1.3"/>
<circle cx="251.4" cy="467.3" r="1.85" fill="none" stroke="#111" stroke-width="1.3"/>
<circle cx="254.9" cy="472.5" r="1.85" fill="none" stroke="#111" stroke-width="1.3"/>
<circle cx="245.2" cy="487.1" r="1.85" fill="none" stroke="#111" stroke-width="1.3"/>
<circle cx="234.9" cy="493.5" r="1.85" fill="none" stroke="#111" stroke-width="1.3"/>
<circle cx="261.6" cy="491.5" r="1.85" fill="none" stroke="#111" stroke-width="1.3"/>
<circle cx="294.7" cy="448.6" r="1.85" fill="none" stroke="#111" stroke-width="1.3"/>
<circle cx="308" cy="449.5" r="1.85" fill="none" stroke="#111" stroke-width="1.3"/>
<circle cx="301.6" cy="455" r="1.85" fill="none" stroke="#111" stroke-width="1.3"/>
<circle cx="288" cy="458.4" r="1.85" fill="none" stroke="#111" stroke-width="1.3"/>
<circle cx="314.6" cy="457" r="1.85" fill="none" stroke="#111" stroke-width="1.3"/>
<circle cx="308" cy="459.7" r="1.85" fill="none" stroke="#111" stroke-width="1.3"/>
<circle cx="301.6" cy="461.4" r="1.85" fill="none" stroke="#111" stroke-width="1.3"/>
<circle cx="304.5" cy="465.8" r="1.85" fill="none" stroke="#111" stroke-width="1.3"/>
<circle cx="318.2" cy="462.7" r="1.85" fill="none" stroke="#111" stroke-width="1.3"/>
<circle cx="321.6" cy="464.4" r="1.85" fill="none" stroke="#111" stroke-width="1.3"/>
<circle cx="288" cy="467.1" r="1.85" fill="none" stroke="#111" stroke-width="1.3"/>
<circle cx="294.7" cy="468.5" r="1.85" fill="none" stroke="#111" stroke-width="1.3"/>
<circle cx="294.7" cy="471.8" r="1.85" fill="none" stroke="#111" stroke-width="1.3"/>
<circle cx="288" cy="472.7" r="1.85" fill="none" stroke="#111" stroke-width="1.3"/>
<circle cx="314.6" cy="472.5" r="1.85" fill="none" stroke="#111" stroke-width="1.3"/>
<circle cx="281.6" cy="475.9" r="1.85" fill="none" stroke="#111" stroke-width="1.3"/>
<circle cx="294.7" cy="484.5" r="1.85" fill="none" stroke="#111" stroke-width="1.3"/>
<circle cx="291.4" cy="488.7" r="1.85" fill="none" stroke="#111" stroke-width="1.3"/>
<circle cx="274.9" cy="493" r="1.85" fill="none" stroke="#111" stroke-width="1.3"/>
<circle cx="278.1" cy="489.9" r="1.85" fill="none" stroke="#111" stroke-width="1.3"/>
<circle cx="281.3" cy="489.9" r="1.85" fill="none" stroke="#111" stroke-width="1.3"/>
<circle cx="281.7" cy="489.7" r="1.85" fill="none" stroke="#111" stroke-width="1.3"/>
<circle cx="281.5" cy="490.1" r="1.85" fill="none" stroke="#111" stroke-width="1.3"/>
<circle cx="285" cy="489.5" r="1.85" fill="none" stroke="#111" stroke-width="1.3"/>
<circle cx="288.1" cy="493.5" r="1.85" fill="none" stroke="#111" stroke-width="1.3"/>
<circle cx="298.2" cy="491.5" r="1.85" fill="none" stroke="#111" stroke-width="1.3"/>
<circle cx="298" cy="491.8" r="1.85" fill="none" stroke="#111" stroke-width="1.3"/>
<circle cx="301.7" cy="489.5" r="1.85" fill="none" stroke="#111" stroke-width="1.3"/>
<circle cx="321.5" cy="490.5" r="1.85" fill="none" stroke="#111" stroke-width="1.3"/>
<circle cx="321.5" cy="492.7" r="1.85" fill="none" stroke="#111" stroke-width="1.3"/>
<circle cx="331.4" cy="491.5" r="1.85" fill="none" stroke="#111" stroke-width="1.3"/>
<circle cx="474.9" cy="419.1" r="2.5" fill="#111"/>
<circle cx="491.5" cy="425.7" r="2.5" fill="#111"/>
<circle cx="491.5" cy="431.1" r="2.5" fill="#111"/>
<circle cx="474.9" cy="434.2" r="2.5" fill="#111"/>
<circle cx="481.6" cy="436.7" r="2.5" fill="#111"/>
<circle cx="484.5" cy="439.8" r="2.5" fill="#111"/>
<circle cx="488" cy="439.8" r="2.5" fill="#111"/>
<circle cx="491.4" cy="443" r="2.5" fill="#111"/>
<circle cx="498.2" cy="444.7" r="2.5" fill="#111"/>
<circle cx="468.1" cy="449.7" r="2.5" fill="#111"/>
<circle cx="481.6" cy="449.7" r="2.5" fill="#111"/>
<circle cx="487.9" cy="450.2" r="2.5" fill="#111"/>
<circle cx="498" cy="451.8" r="2.5" fill="#111"/>
<circle cx="501.4" cy="453.1" r="2.5" fill="#111"/>
<circle cx="481.6" cy="468.6" r="2.5" fill="#111"/>
<circle cx="504.7" cy="424.8" r="2.5" fill="#111"/>
<circle cx="511.4" cy="424.2" r="2.5" fill="#111"/>
<circle cx="498.2" cy="429.5" r="2.5" fill="#111"/>
<circle cx="501.4" cy="430.3" r="2.5" fill="#111"/>
<circle cx="504.7" cy="431.3" r="2.5" fill="#111"/>
<circle cx="507.9" cy="432.7" r="2.5" fill="#111"/>
<circle cx="511.4" cy="432.9" r="2.5" fill="#111"/>
<circle cx="515" cy="430.7" r="2.5" fill="#111"/>
<circle cx="501.4" cy="435" r="2.5" fill="#111"/>
<circle cx="518" cy="435.9" r="2.5" fill="#111"/>
<circle cx="524.6" cy="436.8" r="2.5" fill="#111"/>
<circle cx="528" cy="431.8" r="2.5" fill="#111"/>
<circle cx="514.8" cy="467.1" r="2.5" fill="#111"/>
<circle cx="521.2" cy="483.5" r="2.5" fill="#111"/>
<path d="M52.6 492.5L167.2 439.2" stroke="#111" stroke-width="2.1"/>
<text x="6.2" y="558.1" font-size="10.2">Dietary  fiber</text>
<rect x="6.2" y="559.4" width="62.36" height="0.8" fill="#555"/>
<text x="5" y="574.2" font-size="11.8">J</text>
<text x="98.3" y="576.2" font-size="10" text-anchor="middle">All participants</text>
<path d="M37.6 585.5H40V684H173V686.4M40 684V686.4M106.5 684V686.4" fill="none" stroke="#111" stroke-width="1.5"/>
<path d="M37.6 684H40" stroke="#111" stroke-width="1.2"/>
<text x="33.4" y="686.9" font-size="8.4" text-anchor="end">10</text>
<path d="M37.6 659.38H40" stroke="#111" stroke-width="1.2"/>
<text x="33.4" y="662.27" font-size="8.4" text-anchor="end">15</text>
<path d="M37.6 634.75H40" stroke="#111" stroke-width="1.2"/>
<text x="33.4" y="637.65" font-size="8.4" text-anchor="end">20</text>
<path d="M37.6 610.12H40" stroke="#111" stroke-width="1.2"/>
<text x="33.4" y="613.02" font-size="8.4" text-anchor="end">25</text>
<path d="M37.6 585.5H40" stroke="#111" stroke-width="1.2"/>
<text x="33.4" y="588.4" font-size="8.4" text-anchor="end">30</text>
<text x="40" y="696.1" font-size="8.4" text-anchor="middle">0%</text>
<text x="106.5" y="696.1" font-size="8.4" text-anchor="middle">50%</text>
<text x="173" y="696.1" font-size="8.4" text-anchor="middle">100%</text>
<text x="106.5" y="709.8" font-size="9.4" word-spacing="-0.8" text-anchor="middle">Food preference score</text>
<text transform="translate(13.3 634.75) rotate(-90)" font-size="9.05" text-anchor="middle">Food intake (g/day)</text>
<text x="47.3" y="592.2" font-size="7.9"><tspan font-style="italic">p</tspan><0.001</text>
<text x="47.4" y="601.6" font-size="7.9">R=0.397</text>
<text x="186.5" y="574.2" font-size="11.8">K</text>
<text x="279.8" y="576.2" font-size="10" text-anchor="middle">Non-obese</text>
<path d="M219.1 585.5H221.5V684H354.5V686.4M221.5 684V686.4M288 684V686.4" fill="none" stroke="#111" stroke-width="1.5"/>
<path d="M219.1 684H221.5" stroke="#111" stroke-width="1.2"/>
<text x="214.9" y="686.9" font-size="8.4" text-anchor="end">10</text>
<path d="M219.1 659.38H221.5" stroke="#111" stroke-width="1.2"/>
<text x="214.9" y="662.27" font-size="8.4" text-anchor="end">15</text>
<path d="M219.1 634.75H221.5" stroke="#111" stroke-width="1.2"/>
<text x="214.9" y="637.65" font-size="8.4" text-anchor="end">20</text>
<path d="M219.1 610.12H221.5" stroke="#111" stroke-width="1.2"/>
<text x="214.9" y="613.02" font-size="8.4" text-anchor="end">25</text>
<path d="M219.1 585.5H221.5" stroke="#111" stroke-width="1.2"/>
<text x="214.9" y="588.4" font-size="8.4" text-anchor="end">30</text>
<text x="221.5" y="696.1" font-size="8.4" text-anchor="middle">0%</text>
<text x="288" y="696.1" font-size="8.4" text-anchor="middle">50%</text>
<text x="354.5" y="696.1" font-size="8.4" text-anchor="middle">100%</text>
<text x="288" y="709.8" font-size="9.4" word-spacing="-0.8" text-anchor="middle">Food preference score</text>
<text transform="translate(194.8 634.75) rotate(-90)" font-size="9.05" text-anchor="middle">Food intake (g/day)</text>
<text x="228.8" y="592.2" font-size="7.9"><tspan font-style="italic">p</tspan>=0.013</text>
<text x="228.9" y="601.6" font-size="7.9">R=0.398</text>
<text x="366.5" y="574.2" font-size="11.8">L</text>
<text x="461.3" y="576.2" font-size="10" text-anchor="middle">Abdominal-obese</text>
<path d="M399.1 585.5H401.5V684H534.5V686.4M401.5 684V686.4M468 684V686.4" fill="none" stroke="#111" stroke-width="1.5"/>
<path d="M399.1 684H401.5" stroke="#111" stroke-width="1.2"/>
<text x="394.9" y="686.9" font-size="8.4" text-anchor="end">10</text>
<path d="M399.1 659.38H401.5" stroke="#111" stroke-width="1.2"/>
<text x="394.9" y="662.27" font-size="8.4" text-anchor="end">15</text>
<path d="M399.1 634.75H401.5" stroke="#111" stroke-width="1.2"/>
<text x="394.9" y="637.65" font-size="8.4" text-anchor="end">20</text>
<path d="M399.1 610.12H401.5" stroke="#111" stroke-width="1.2"/>
<text x="394.9" y="613.02" font-size="8.4" text-anchor="end">25</text>
<path d="M399.1 585.5H401.5" stroke="#111" stroke-width="1.2"/>
<text x="394.9" y="588.4" font-size="8.4" text-anchor="end">30</text>
<text x="401.5" y="696.1" font-size="8.4" text-anchor="middle">0%</text>
<text x="468" y="696.1" font-size="8.4" text-anchor="middle">50%</text>
<text x="534.5" y="696.1" font-size="8.4" text-anchor="middle">100%</text>
<text x="468" y="709.8" font-size="9.4" word-spacing="-0.8" text-anchor="middle">Food preference score</text>
<text transform="translate(374.8 634.75) rotate(-90)" font-size="9.05" text-anchor="middle">Food intake (g/day)</text>
<text x="408.8" y="592.2" font-size="7.9"><tspan font-style="italic">p</tspan>=0.122</text>
<text x="408.9" y="601.6" font-size="7.9">R=−0.289</text>
<circle cx="49.9" cy="676.2" r="1.85" fill="none" stroke="#111" stroke-width="1.3"/>
<circle cx="60.2" cy="667" r="1.85" fill="none" stroke="#111" stroke-width="1.3"/>
<circle cx="60" cy="672.9" r="1.85" fill="none" stroke="#111" stroke-width="1.3"/>
<circle cx="63.7" cy="674.1" r="1.85" fill="none" stroke="#111" stroke-width="1.3"/>
<circle cx="73.4" cy="672.7" r="1.85" fill="none" stroke="#111" stroke-width="1.3"/>
<circle cx="73.4" cy="679.3" r="1.85" fill="none" stroke="#111" stroke-width="1.3"/>
<circle cx="86.9" cy="665.6" r="1.85" fill="none" stroke="#111" stroke-width="1.3"/>
<circle cx="83.2" cy="675.6" r="1.85" fill="none" stroke="#111" stroke-width="1.3"/>
<circle cx="87.1" cy="675" r="1.85" fill="none" stroke="#111" stroke-width="1.3"/>
<circle cx="93.3" cy="667.1" r="1.85" fill="none" stroke="#111" stroke-width="1.3"/>
<circle cx="97.2" cy="668.5" r="1.85" fill="none" stroke="#111" stroke-width="1.3"/>
<circle cx="103.5" cy="666" r="1.85" fill="none" stroke="#111" stroke-width="1.3"/>
<circle cx="103.5" cy="667.8" r="1.85" fill="none" stroke="#111" stroke-width="1.3"/>
<circle cx="103.5" cy="672.3" r="1.85" fill="none" stroke="#111" stroke-width="1.3"/>
<circle cx="103.5" cy="678.5" r="1.85" fill="none" stroke="#111" stroke-width="1.3"/>
<circle cx="109.9" cy="665.4" r="1.85" fill="none" stroke="#111" stroke-width="1.3"/>
<circle cx="113.3" cy="667.2" r="1.85" fill="none" stroke="#111" stroke-width="1.3"/>
<circle cx="116.9" cy="669.7" r="1.85" fill="none" stroke="#111" stroke-width="1.3"/>
<circle cx="119.9" cy="667.8" r="1.85" fill="none" stroke="#111" stroke-width="1.3"/>
<circle cx="120.1" cy="652.1" r="1.85" fill="none" stroke="#111" stroke-width="1.3"/>
<circle cx="123.5" cy="665.2" r="1.85" fill="none" stroke="#111" stroke-width="1.3"/>
<circle cx="123.5" cy="670.7" r="1.85" fill="none" stroke="#111" stroke-width="1.3"/>
<circle cx="127.1" cy="670.5" r="1.85" fill="none" stroke="#111" stroke-width="1.3"/>
<circle cx="120.1" cy="673.1" r="1.85" fill="none" stroke="#111" stroke-width="1.3"/>
<circle cx="120.1" cy="678.5" r="1.85" fill="none" stroke="#111" stroke-width="1.3"/>
<circle cx="133.2" cy="663.2" r="1.85" fill="none" stroke="#111" stroke-width="1.3"/>
<circle cx="139.9" cy="666.4" r="1.85" fill="none" stroke="#111" stroke-width="1.3"/>
<circle cx="139.7" cy="666.8" r="1.85" fill="none" stroke="#111" stroke-width="1.3"/>
<circle cx="143.5" cy="665.2" r="1.85" fill="none" stroke="#111" stroke-width="1.3"/>
<circle cx="136.7" cy="672.3" r="1.85" fill="none" stroke="#111" stroke-width="1.3"/>
<circle cx="140" cy="676.1" r="1.85" fill="none" stroke="#111" stroke-width="1.3"/>
<circle cx="153" cy="666.1" r="1.85" fill="none" stroke="#111" stroke-width="1.3"/>
<circle cx="156.7" cy="663" r="1.85" fill="none" stroke="#111" stroke-width="1.3"/>
<circle cx="173.2" cy="665.7" r="1.85" fill="none" stroke="#111" stroke-width="1.3"/>
<circle cx="73.4" cy="647.1" r="2.5" fill="#111"/>
<circle cx="90" cy="653.5" r="2.5" fill="#111"/>
<circle cx="100.1" cy="639.9" r="2.5" fill="#111"/>
<circle cx="100.1" cy="648.6" r="2.5" fill="#111"/>
<circle cx="103.4" cy="648.1" r="2.5" fill="#111"/>
<circle cx="106.1" cy="644.5" r="2.5" fill="#111"/>
<circle cx="110" cy="642.4" r="2.5" fill="#111"/>
<circle cx="110" cy="648.6" r="2.5" fill="#111"/>
<circle cx="113.2" cy="647.3" r="2.5" fill="#111"/>
<circle cx="120.1" cy="643" r="2.5" fill="#111"/>
<circle cx="123.1" cy="642.8" r="2.5" fill="#111"/>
<circle cx="122.9" cy="648" r="2.5" fill="#111"/>
<circle cx="120.1" cy="652.1" r="2.5" fill="#111"/>
<circle cx="123.1" cy="652.1" r="2.5" fill="#111"/>
<circle cx="123.1" cy="611.2" r="2.5" fill="#111"/>
<circle cx="133.2" cy="607.6" r="2.5" fill="#111"/>
<circle cx="133.2" cy="617.5" r="2.5" fill="#111"/>
<circle cx="173.3" cy="628.9" r="2.5" fill="#111"/>
<circle cx="140.1" cy="631.6" r="2.5" fill="#111"/>
<circle cx="136.8" cy="637.1" r="2.5" fill="#111"/>
<circle cx="146.3" cy="635.8" r="2.5" fill="#111"/>
<circle cx="142.7" cy="639.5" r="2.5" fill="#111"/>
<circle cx="146.6" cy="640.1" r="2.5" fill="#111"/>
<circle cx="133.2" cy="641.8" r="2.5" fill="#111"/>
<circle cx="160" cy="640" r="2.5" fill="#111"/>
<circle cx="166.3" cy="645.1" r="2.5" fill="#111"/>
<circle cx="149.9" cy="648.8" r="2.5" fill="#111"/>
<circle cx="129.6" cy="650.7" r="2.5" fill="#111"/>
<circle cx="143" cy="656.9" r="2.5" fill="#111"/>
<circle cx="231.4" cy="676.2" r="1.85" fill="none" stroke="#111" stroke-width="1.3"/>
<circle cx="241.7" cy="667" r="1.85" fill="none" stroke="#111" stroke-width="1.3"/>
<circle cx="241.5" cy="672.9" r="1.85" fill="none" stroke="#111" stroke-width="1.3"/>
<circle cx="245.2" cy="674.1" r="1.85" fill="none" stroke="#111" stroke-width="1.3"/>
<circle cx="254.9" cy="672.7" r="1.85" fill="none" stroke="#111" stroke-width="1.3"/>
<circle cx="254.9" cy="679.3" r="1.85" fill="none" stroke="#111" stroke-width="1.3"/>
<circle cx="268.4" cy="665.6" r="1.85" fill="none" stroke="#111" stroke-width="1.3"/>
<circle cx="264.7" cy="675.6" r="1.85" fill="none" stroke="#111" stroke-width="1.3"/>
<circle cx="268.6" cy="675" r="1.85" fill="none" stroke="#111" stroke-width="1.3"/>
<circle cx="274.8" cy="667.1" r="1.85" fill="none" stroke="#111" stroke-width="1.3"/>
<circle cx="278.7" cy="668.5" r="1.85" fill="none" stroke="#111" stroke-width="1.3"/>
<circle cx="285" cy="666" r="1.85" fill="none" stroke="#111" stroke-width="1.3"/>
<circle cx="285" cy="667.8" r="1.85" fill="none" stroke="#111" stroke-width="1.3"/>
<circle cx="285" cy="672.3" r="1.85" fill="none" stroke="#111" stroke-width="1.3"/>
<circle cx="285" cy="678.5" r="1.85" fill="none" stroke="#111" stroke-width="1.3"/>
<circle cx="291.4" cy="665.4" r="1.85" fill="none" stroke="#111" stroke-width="1.3"/>
<circle cx="294.8" cy="667.2" r="1.85" fill="none" stroke="#111" stroke-width="1.3"/>
<circle cx="298.4" cy="669.7" r="1.85" fill="none" stroke="#111" stroke-width="1.3"/>
<circle cx="301.4" cy="667.8" r="1.85" fill="none" stroke="#111" stroke-width="1.3"/>
<circle cx="301.6" cy="652.1" r="1.85" fill="none" stroke="#111" stroke-width="1.3"/>
<circle cx="305" cy="665.2" r="1.85" fill="none" stroke="#111" stroke-width="1.3"/>
<circle cx="305" cy="670.7" r="1.85" fill="none" stroke="#111" stroke-width="1.3"/>
<circle cx="308.6" cy="670.5" r="1.85" fill="none" stroke="#111" stroke-width="1.3"/>
<circle cx="301.6" cy="673.1" r="1.85" fill="none" stroke="#111" stroke-width="1.3"/>
<circle cx="301.6" cy="678.5" r="1.85" fill="none" stroke="#111" stroke-width="1.3"/>
<circle cx="314.7" cy="663.2" r="1.85" fill="none" stroke="#111" stroke-width="1.3"/>
<circle cx="321.4" cy="666.4" r="1.85" fill="none" stroke="#111" stroke-width="1.3"/>
<circle cx="321.2" cy="666.8" r="1.85" fill="none" stroke="#111" stroke-width="1.3"/>
<circle cx="325" cy="665.2" r="1.85" fill="none" stroke="#111" stroke-width="1.3"/>
<circle cx="318.2" cy="672.3" r="1.85" fill="none" stroke="#111" stroke-width="1.3"/>
<circle cx="321.5" cy="676.1" r="1.85" fill="none" stroke="#111" stroke-width="1.3"/>
<circle cx="334.5" cy="666.1" r="1.85" fill="none" stroke="#111" stroke-width="1.3"/>
<circle cx="338.2" cy="663" r="1.85" fill="none" stroke="#111" stroke-width="1.3"/>
<circle cx="354.7" cy="665.7" r="1.85" fill="none" stroke="#111" stroke-width="1.3"/>
<circle cx="434.9" cy="647.1" r="2.5" fill="#111"/>
<circle cx="451.5" cy="653.5" r="2.5" fill="#111"/>
<circle cx="461.6" cy="639.9" r="2.5" fill="#111"/>
<circle cx="461.6" cy="648.6" r="2.5" fill="#111"/>
<circle cx="464.9" cy="648.1" r="2.5" fill="#111"/>
<circle cx="467.6" cy="644.5" r="2.5" fill="#111"/>
<circle cx="471.5" cy="642.4" r="2.5" fill="#111"/>
<circle cx="471.5" cy="648.6" r="2.5" fill="#111"/>
<circle cx="474.7" cy="647.3" r="2.5" fill="#111"/>
<circle cx="481.6" cy="643" r="2.5" fill="#111"/>
<circle cx="484.6" cy="642.8" r="2.5" fill="#111"/>
<circle cx="484.4" cy="648" r="2.5" fill="#111"/>
<circle cx="481.6" cy="652.1" r="2.5" fill="#111"/>
<circle cx="484.6" cy="652.1" r="2.5" fill="#111"/>
<circle cx="484.6" cy="611.2" r="2.5" fill="#111"/>
<circle cx="494.7" cy="607.6" r="2.5" fill="#111"/>
<circle cx="494.7" cy="617.5" r="2.5" fill="#111"/>
<circle cx="534.8" cy="628.9" r="2.5" fill="#111"/>
<circle cx="501.6" cy="631.6" r="2.5" fill="#111"/>
<circle cx="498.3" cy="637.1" r="2.5" fill="#111"/>
<circle cx="507.8" cy="635.8" r="2.5" fill="#111"/>
<circle cx="504.2" cy="639.5" r="2.5" fill="#111"/>
<circle cx="508.1" cy="640.1" r="2.5" fill="#111"/>
<circle cx="494.7" cy="641.8" r="2.5" fill="#111"/>
<circle cx="521.5" cy="640" r="2.5" fill="#111"/>
<circle cx="527.8" cy="645.1" r="2.5" fill="#111"/>
<circle cx="511.4" cy="648.8" r="2.5" fill="#111"/>
<circle cx="491.1" cy="650.7" r="2.5" fill="#111"/>
<circle cx="504.5" cy="656.9" r="2.5" fill="#111"/>
<path d="M50.2 672.7L172.7 643.6" stroke="#111" stroke-width="2.1"/>
<path d="M231.5 673.5L354.7 665.3" stroke="#111" stroke-width="2.1"/>
</svg></body></html>
